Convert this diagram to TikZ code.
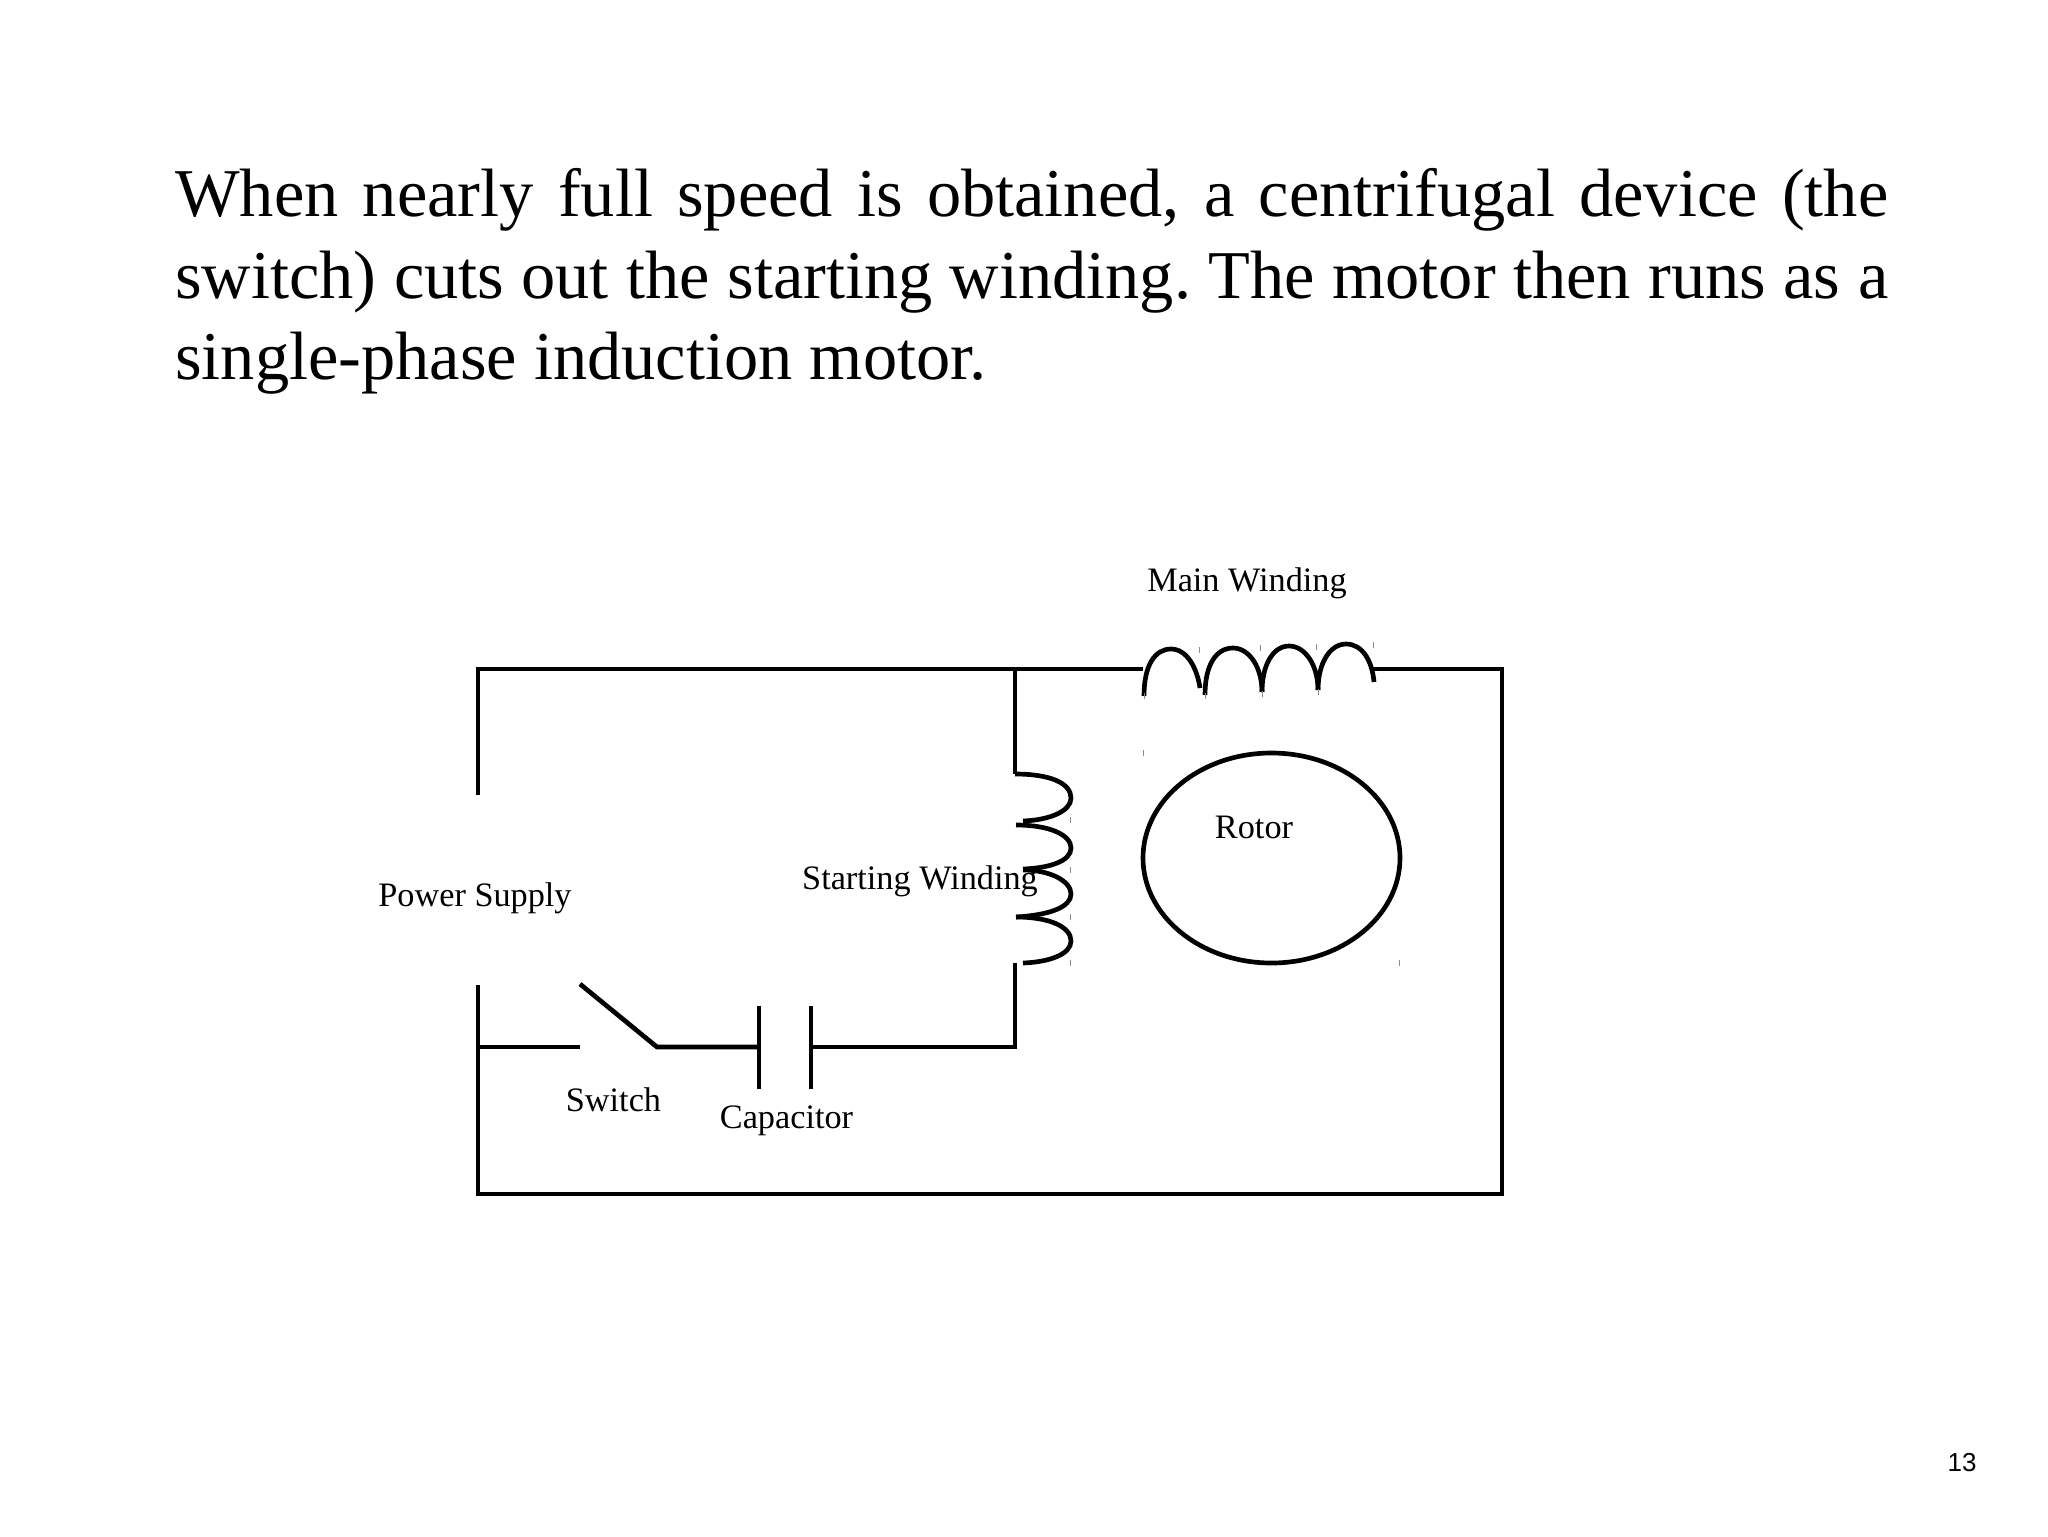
\documentclass[tikz,border=0pt]{standalone}
\usepackage{fontspec}
\setmainfont{Liberation Serif}
\newfontfamily\pagefont{Liberation Sans}
\tikzset{
  x=0.75pt,y=-0.75pt,
  wire/.style={line width=3.5pt,black,line cap=butt},
  coil/.style={line width=3.5pt,black},
  tick/.style={line width=0.5pt,black!45},
  lab/.style={anchor=base,inner sep=0pt,font=\fontsize{25.7}{28}\selectfont},
}
\begin{document}
\begin{tikzpicture}
\useasboundingbox (0,0) rectangle (2048,1536);
\fill[white] (0,0) rectangle (2048,1536);
\node[anchor=north west,inner sep=0pt,text width=1713*0.75pt,align=justify,font=\frenchspacing\fontsize{51.3}{61.3}\selectfont] (title) at (175,168)
 {When nearly full speed is obtained, a centrifugal device (the\linebreak switch) cuts out the starting winding. The motor then runs as a\linebreak single-phase induction motor.};
\coordinate (tl) at (478,669);
\coordinate (tr) at (1502,669);
\coordinate (bl) at (478,1194);
\coordinate (br) at (1502,1194);
\coordinate (psT) at (478,795);
\coordinate (psB) at (478,985);
\coordinate (jt) at (1015,669);
\coordinate (mcL) at (1143,669);
\coordinate (mcR) at (1373,669);
\coordinate (scT) at (1015,774);
\coordinate (scB) at (1015,963);
\coordinate (jb) at (1015,1047);
\coordinate (swL) at (580,1047);
\coordinate (swR) at (657,1047);
\coordinate (swA) at (580,984);
\coordinate (capL) at (759,1047);
\coordinate (capR) at (811,1047);
\coordinate (swLw) at (478,1047);
\draw[wire] (psT) -- (tl) -- (mcL);
\draw[wire] (mcR) -- (tr) -- (br) -- (bl) -- (psB);
\draw[wire] (jt) -- (scT);
\draw[wire] (scB) -- (jb) -- (capR);
\draw[wire] (swLw) -- (swL);
\draw[wire] (swA) -- (swR) -- (capL);
\draw[wire] (759,1006) -- (759,1089);
\draw[wire] (811,1006) -- (811,1089);
% main winding
\draw[coil] (1144,696) .. controls (1144,665) and (1155,649) .. (1171,649) .. controls (1187,649) and (1197,668) .. (1200,688);
\draw[coil] (1205,695) .. controls (1205,665) and (1216,648) .. (1233,648) .. controls (1249,648) and (1262,667) .. (1262,692);
\draw[coil] (1262,692) .. controls (1262,665) and (1273,646) .. (1289,646) .. controls (1305,646) and (1318,665) .. (1318,690);
\draw[coil] (1318,690) .. controls (1318,663) and (1330,644) .. (1346,644) .. controls (1362,644) and (1372,660) .. (1374,682);
% starting winding
\draw[coil] (1015,774) .. controls (1050,774) and (1071,783) .. (1071,798) .. controls (1071,811) and (1050,820) .. (1023,821);
\draw[coil] (1016,825) .. controls (1050,825) and (1071,835) .. (1071,848) .. controls (1071,861) and (1050,868) .. (1023,869);
\draw[coil] (1023,870) .. controls (1050,870) and (1071,881) .. (1071,894) .. controls (1071,907) and (1050,915) .. (1016,917);
\draw[coil] (1016,917) .. controls (1050,917) and (1071,927) .. (1071,941) .. controls (1071,954) and (1050,962) .. (1023,963);
% rotor
\draw[coil] (1271.5,858) ellipse [x radius=128.5,y radius=105];
% tiny marks
\foreach \x/\y in {1199/650,1260/648,1316/647,1373/645,1144/696,1205/696,1262/694,1318/692,1070/820,1070/870,1070/917,1070/963,1143/753,1399/963}
  \draw[tick] (\x,\y-3) -- (\x,\y+3);
\node[lab] (main) at (1247,591) {Main Winding};
\node[lab] (rotor) at (1254,838) {Rotor};
\node[lab] (start) at (920,889) {Starting Winding};
\node[lab] (power) at (475,906) {Power Supply};
\node[lab] (sw) at (613.5,1111) {Switch};
\node[lab] (cap) at (786.5,1128) {Capacitor};
\node[anchor=base,inner sep=0pt,font=\pagefont\fontsize{19.5}{24}\selectfont] (num) at (1962,1471) {13};
\end{tikzpicture}
\end{document}
